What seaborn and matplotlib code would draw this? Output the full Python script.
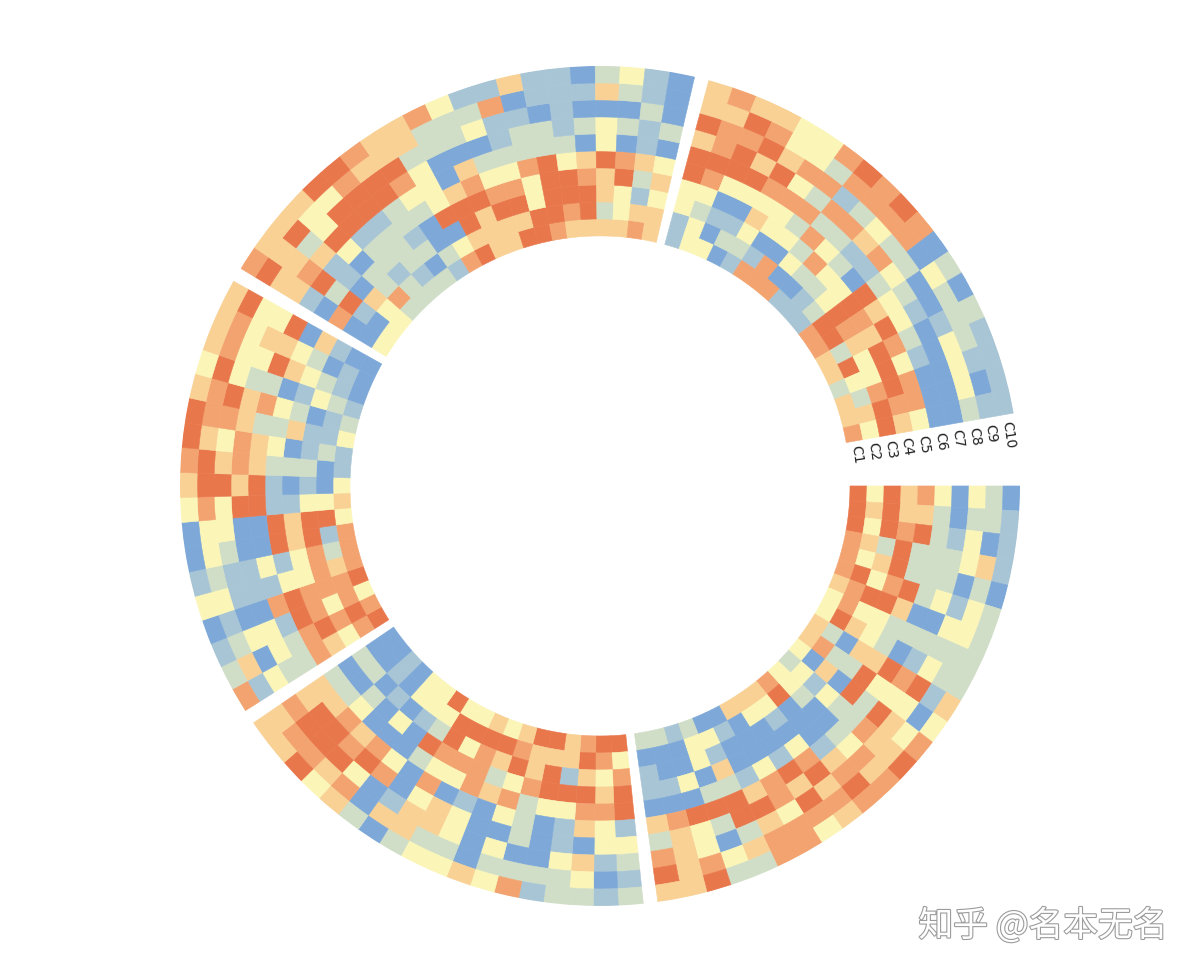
import numpy as np
import matplotlib
matplotlib.use("Agg")
import matplotlib.pyplot as plt
import matplotlib.patheffects as pe
import seaborn as sns

# 10 columns -> 10 rings (C1 innermost)
columns = ["C1", "C2", "C3", "C4", "C5", "C6", "C7", "C8", "C9", "C10"]

# colour level per cell, 0 = blue ... 6 = red; one string per row, C1..C10
sector_a = [
    "6364530320", "6464420221", "6365621301", "5426222341", "5346222020",
    "5635623132", "4566400332", "3533222222", "3643201322", "4204465614",
    "4522633303", "3040626435", "2313225446", "3320023545", "5600014565",
    "4310356454", "4300164653", "4000355355", "0100146455", "0314266242",
    "2330262032", "1003063356", "2001054444", "2011042564",
]
sector_b = [
    "6356613212", "6534533101", "5646540432", "4416311322", "6466300021",
    "6445222025", "4563530323", "3642400004", "4655513323", "3635304423",
    "3665353442", "6326200140", "3310035002", "3303056354", "0010045643",
    "1102356656", "0020246654", "0020244544",
]
sector_c = [
    "6534522315", "5656523042", "3535613321", "6555650010", "5453311133",
    "5253131121", "5164600230", "3664600330", "4331166353", "3010164664",
    "1022245465", "1210345346", "3114224556", "2102354654", "1231022363",
    "0123463354", "0102344354", "0014063364",
]
sector_d = [
    "3005014465", "3016265444", "3340114264", "2522036334", "2212216636",
    "2122216656", "2021226645", "1200235644", "5306333244", "6466400225",
    "4446540223", "4465320321", "6465321151", "6633522104", "5666622011",
    "4566321111", "4665402010", "4244633042", "4336502023", "5412411211",
    "4434302000",
]
sector_e = [
    "1133664644", "3323565545", "3010366564", "0210364654", "1234356433",
    "5103353533", "5503252525", "5032525156", "1025325255", "1123214356",
    "1233015255", "5666623200", "5655432032", "4244631020", "4636520122",
    "2336310321", "4256500311", "4465500301", "5364300211",
]

sectors = [sector_a, sector_b, sector_c, sector_d, sector_e]
gap_after = [2, 2, 2, 2, 10]  # degrees

level_colors = ["#7da8d8", "#a9c5d5", "#d0dec7", "#fbf6b8",
                "#f9d195", "#f3a46f", "#e9774c"]

sns.set_theme(style="white")
palette = sns.blend_palette(level_colors, n_colors=7)

fig = plt.figure(figsize=(12, 9.73), dpi=100)
ax = fig.add_axes([0.15, 0.0689, 0.7, 0.8633], projection="polar")
ax.set_ylim(0, 420)
ax.set_axis_off()

inner = 250
ring = 17
n_rows = sum(len(s) for s in sectors)
step = (360 - sum(gap_after)) / n_rows

# clockwise from 0 degrees
start = 0.0
last_end = 0.0
for sec, gap in zip(sectors, gap_after):
    for i, row in enumerate(sec):
        centre = start - (i + 0.5) * step
        vals = [int(c) for c in row]
        cols = [palette[v] for v in vals]
        ax.bar(np.deg2rad(np.full(len(vals), centre)), ring,
               width=np.deg2rad(step), bottom=inner + ring * np.arange(len(vals)),
               color=cols, edgecolor=cols, linewidth=0.4, align="center")
    last_end = start - len(sec) * step
    start = last_end - gap

# column names after the last sector
label_deg = last_end + 360 - 1.0
for j, name in enumerate(columns):
    ax.text(np.deg2rad(label_deg), inner + ring * (j + 0.5), name,
            rotation=label_deg - 90, rotation_mode="anchor",
            ha="left", va="center", fontsize=10, color="#222222")

fig.text(0.973, 0.048, "知乎 @名本无名", ha="right", va="center", fontsize=25,
         color="white", family=["Noto Sans CJK SC", "DejaVu Sans"],
         path_effects=[pe.withStroke(linewidth=1.6, foreground="#9c9c9c")])

fig.savefig("out.png", dpi=100)
